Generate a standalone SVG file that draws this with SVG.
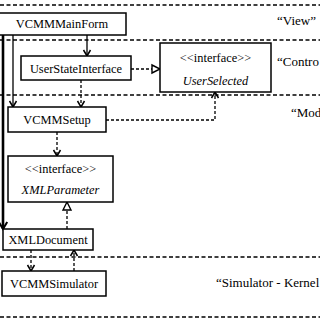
<svg xmlns="http://www.w3.org/2000/svg" width="320" height="320" viewBox="0 0 320 320">
<style>
.box{fill:#fff;stroke:#000;stroke-width:1.5}
.t{font-family:"Liberation Serif","Times New Roman",serif;font-size:12.4px;fill:#000}
.lbl{font-family:"Liberation Serif","Times New Roman",serif;font-size:13px;fill:#000}
.it{font-style:italic}
.sep{stroke:#000;stroke-width:1.3;stroke-dasharray:4,2.5;fill:none}
.dash{stroke:#000;stroke-width:1.3;stroke-dasharray:3,2;fill:none}
.solid{stroke:#000;stroke-width:1.3;fill:none}
.thick{stroke:#000;stroke-width:2.6;fill:none}
</style>
<defs>
<marker id="v" markerUnits="userSpaceOnUse" markerWidth="10" markerHeight="10" refX="8" refY="5" orient="auto">
<path d="M2,1.5 L8,5 L2,8.5" fill="none" stroke="#000" stroke-width="1.5"/>
</marker>
<marker id="vt" markerUnits="userSpaceOnUse" markerWidth="12" markerHeight="12" refX="9" refY="6" orient="auto">
<path d="M2,1.8 L9,6 L2,10.2" fill="none" stroke="#000" stroke-width="2"/>
</marker>
<marker id="tri" markerUnits="userSpaceOnUse" markerWidth="12" markerHeight="12" refX="10" refY="6" orient="auto">
<path d="M2,2 L10,6 L2,10 Z" fill="#fff" stroke="#000" stroke-width="1.4"/>
</marker>
</defs>
<g id="separators">
<line class="sep" x1="0" y1="5" x2="320" y2="5"/>
<line class="sep" x1="0" y1="40" x2="320" y2="40"/>
<line class="sep" x1="0" y1="95" x2="320" y2="95"/>
<line class="sep" x1="0" y1="257" x2="320" y2="257"/>
<line class="sep" x1="0" y1="317" x2="320" y2="317"/>
</g>
<g id="layer-labels">
<text class="lbl" x="277" y="25">“View”</text>
<text class="lbl" x="277" y="66">“Contro</text>
<text class="lbl" x="291" y="117">“Mod</text>
<text class="lbl" x="216" y="287">“Simulator - Kernel</text>
</g>
<g id="connectors">
<line class="thick" x1="3" y1="35" x2="3" y2="229" marker-end="url(#vt)"/>
<line class="solid" x1="13" y1="35" x2="13" y2="107" marker-end="url(#v)"/>
<line class="solid" x1="87" y1="35" x2="87" y2="56" marker-end="url(#v)"/>
<line class="dash" x1="131" y1="69" x2="160" y2="69" marker-end="url(#tri)"/>
<line class="dash" x1="81" y1="80" x2="81" y2="107" marker-end="url(#v)"/>
<polyline class="dash" points="106,120 215,120 215,92" marker-end="url(#v)"/>
<line class="dash" x1="57" y1="132" x2="57" y2="156" marker-end="url(#v)"/>
<line class="dash" x1="67" y1="229" x2="67" y2="202" marker-end="url(#tri)"/>
<line class="dash" x1="31" y1="250" x2="31" y2="271" marker-end="url(#v)"/>
<line class="dash" x1="74" y1="271" x2="74" y2="250" marker-end="url(#v)"/>
</g>
<g id="VCMMMainForm">
<rect class="box" x="-1" y="13" width="127" height="22"/>
<text class="t" x="62" y="28" text-anchor="middle">VCMMMainForm</text>
</g>
<g id="UserStateInterface">
<rect class="box" x="21" y="56" width="110" height="24"/>
<text class="t" x="76" y="73" text-anchor="middle">UserStateInterface</text>
</g>
<g id="UserSelected">
<rect class="box" x="160" y="43" width="111" height="49"/>
<text class="t" x="215.5" y="62" text-anchor="middle">&lt;&lt;interface&gt;&gt;</text>
<text class="t it" x="215.5" y="85" text-anchor="middle">UserSelected</text>
</g>
<g id="VCMMSetup">
<rect class="box" x="8" y="107" width="98" height="25"/>
<text class="t" x="57" y="124" text-anchor="middle">VCMMSetup</text>
</g>
<g id="XMLParameter">
<rect class="box" x="8" y="156" width="105" height="46"/>
<text class="t" x="60.5" y="173" text-anchor="middle">&lt;&lt;interface&gt;&gt;</text>
<text class="t it" x="60.5" y="194" text-anchor="middle">XMLParameter</text>
</g>
<g id="XMLDocument">
<rect class="box" x="3" y="229" width="90" height="21"/>
<text class="t" x="48" y="244" text-anchor="middle">XMLDocument</text>
</g>
<g id="VCMMSimulator">
<rect class="box" x="2" y="271" width="104" height="25"/>
<text class="t" x="54" y="288" text-anchor="middle">VCMMSimulator</text>
</g>
</svg>
